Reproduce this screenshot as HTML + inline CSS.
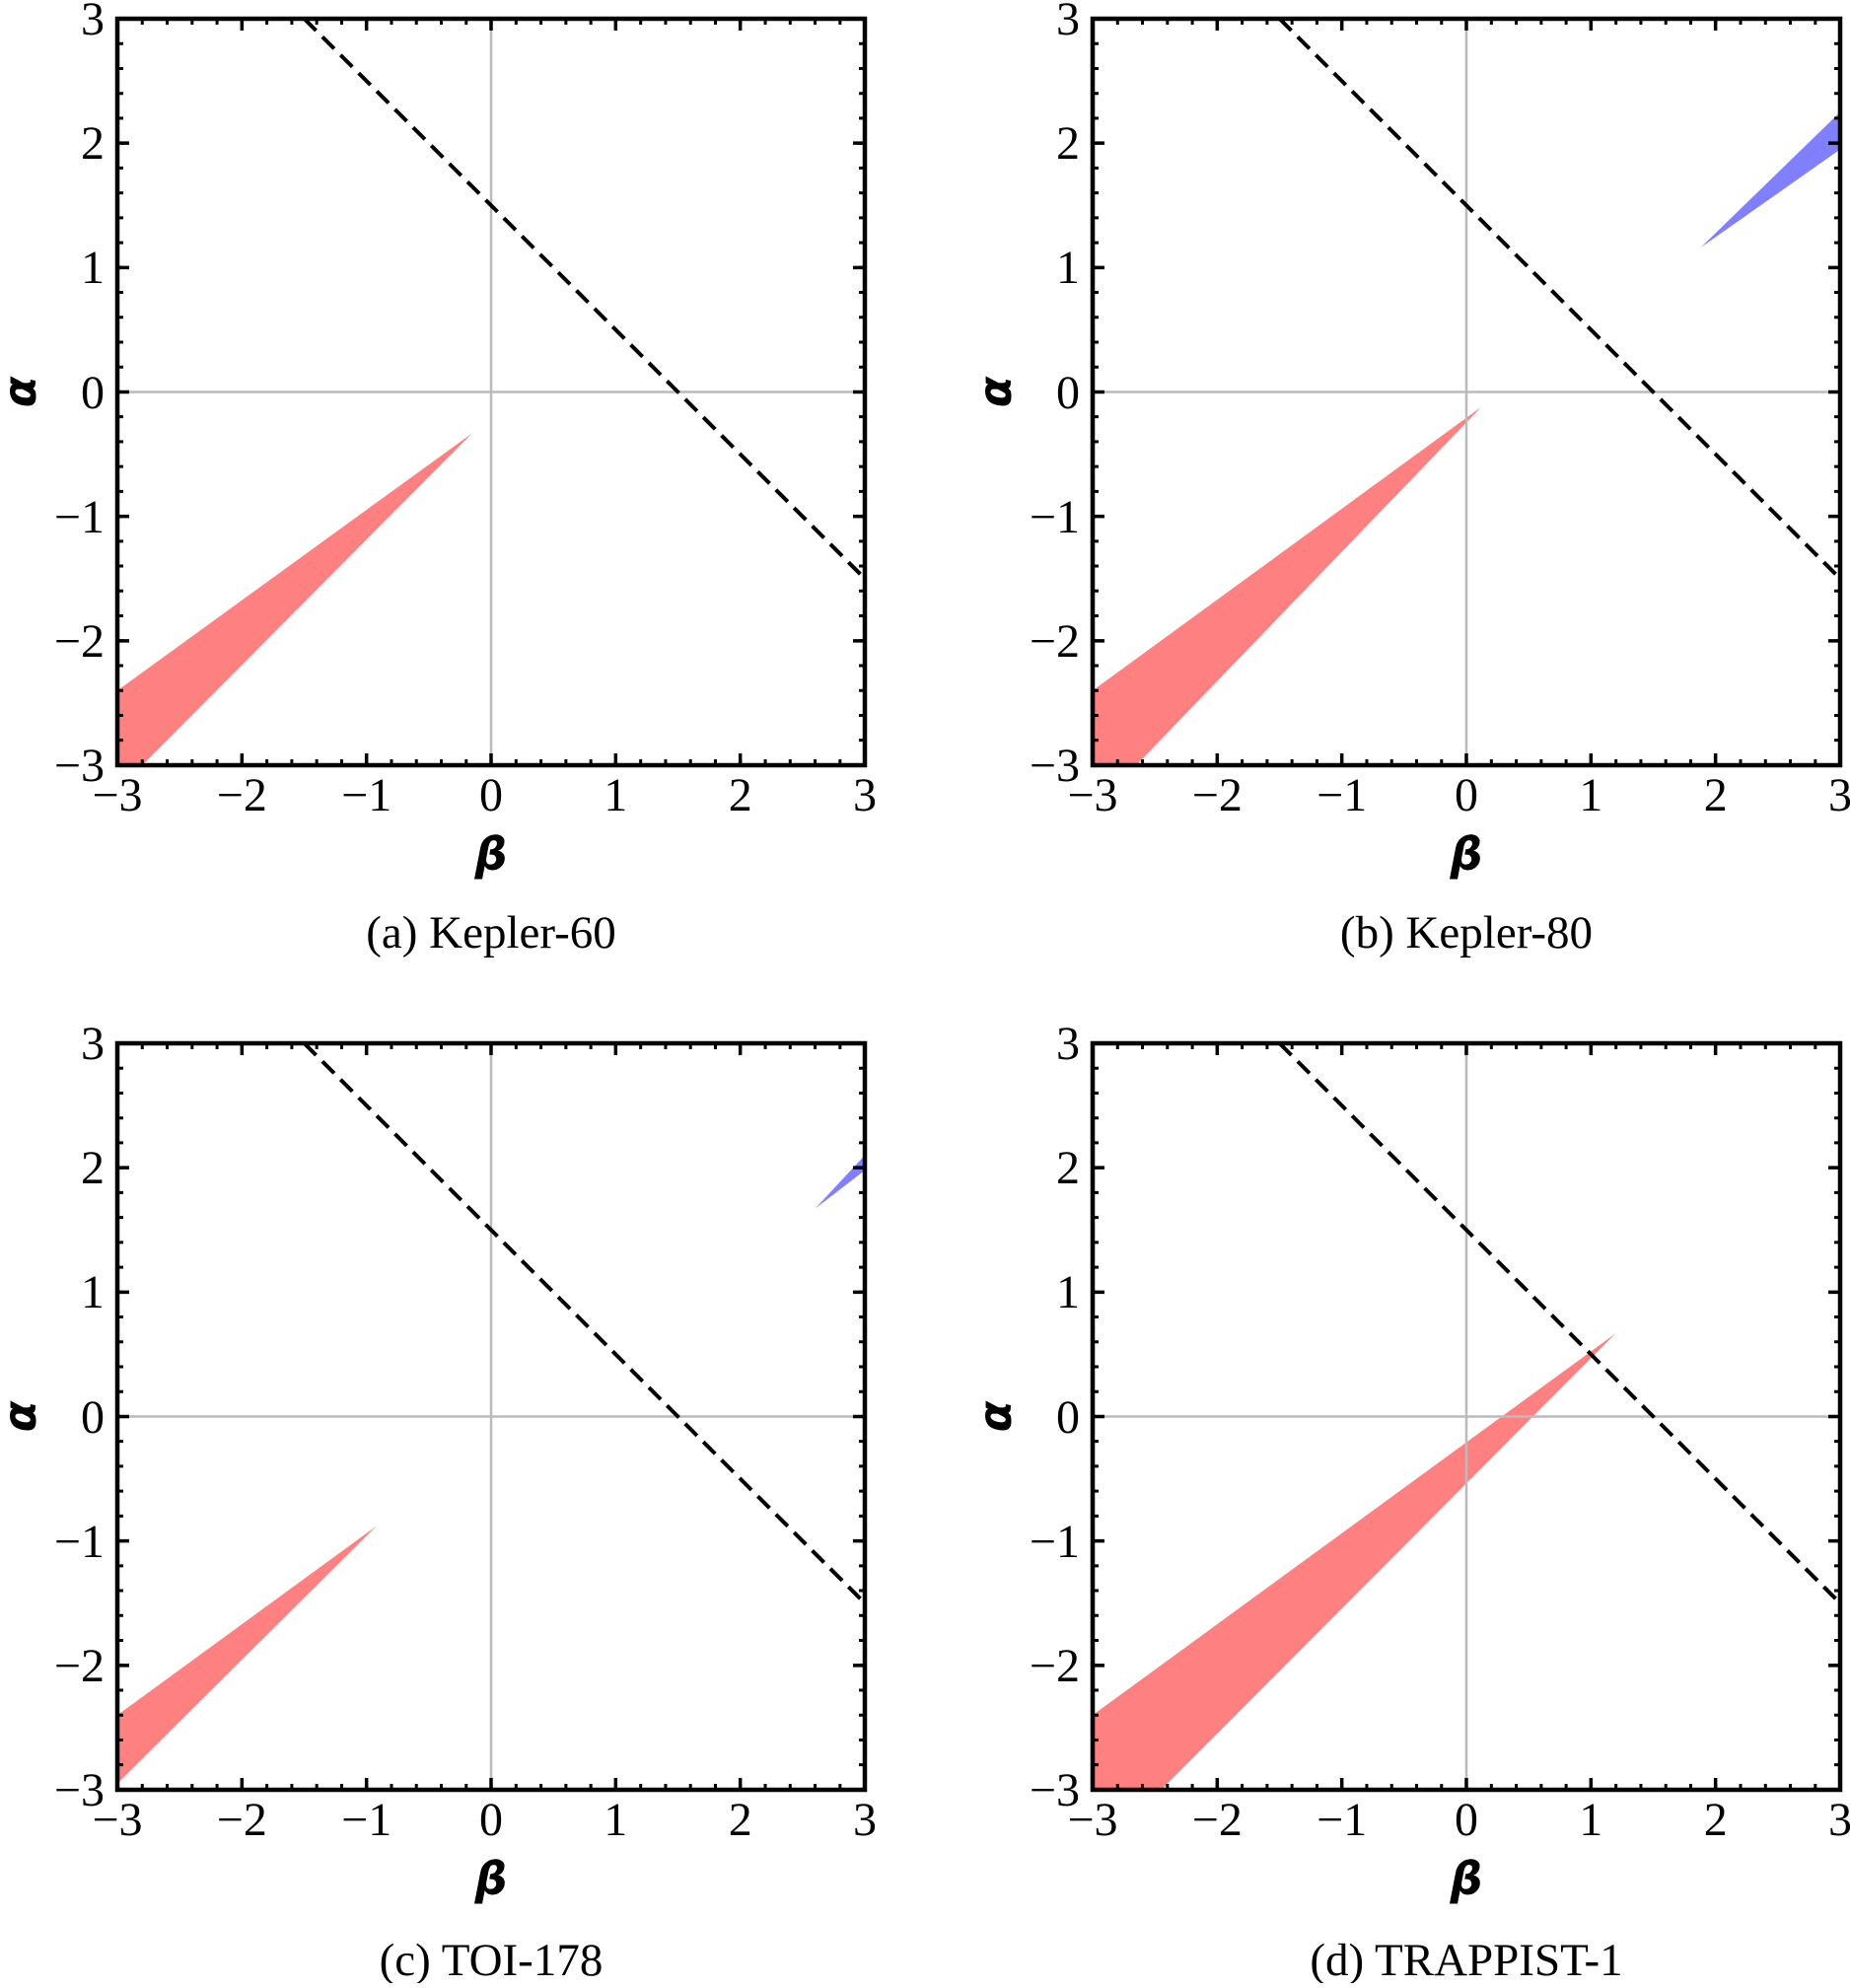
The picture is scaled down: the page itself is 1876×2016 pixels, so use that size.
<!DOCTYPE html>
<html><head><meta charset="utf-8"><style>
html,body{margin:0;padding:0;background:#fff}
svg text{font-family:"Liberation Serif",serif;fill:#000}
.tl{font-size:48px}
.cap{font-size:47px}
.gl{font-family:"DejaVu Sans","Liberation Sans",sans-serif;font-style:italic;font-weight:bold;font-size:46px}
</style></head><body>
<svg width="1876" height="2011" viewBox="0 0 1876 2011" xmlns="http://www.w3.org/2000/svg">
<defs>
<g id="frame">
  <line x1="0" y1="378.5" x2="758" y2="378.5" stroke="#bbb" stroke-width="2.5"/>
  <line x1="379" y1="0" x2="379" y2="757" stroke="#bbb" stroke-width="2.5"/>
  <g stroke="#000" stroke-width="6" stroke-dasharray="3 22.27" stroke-dashoffset="1.5">
    <line x1="0" y1="754" x2="758" y2="754"/>
    <line x1="0" y1="3" x2="758" y2="3"/>
  </g>
  <g stroke="#000" stroke-width="6" stroke-dasharray="3 22.23" stroke-dashoffset="1.5">
    <line x1="3" y1="0" x2="3" y2="757"/>
    <line x1="755" y1="0" x2="755" y2="757"/>
  </g>
  <g stroke="#000" stroke-width="12" stroke-dasharray="3.5 122.83" stroke-dashoffset="1.75">
    <line x1="0" y1="751" x2="758" y2="751"/>
    <line x1="0" y1="6" x2="758" y2="6"/>
  </g>
  <g stroke="#000" stroke-width="12" stroke-dasharray="3.5 122.67" stroke-dashoffset="1.75">
    <line x1="6" y1="0" x2="6" y2="757"/>
    <line x1="752" y1="0" x2="752" y2="757"/>
  </g>
  <rect x="0" y="0" width="758" height="757" fill="none" stroke="#000" stroke-width="4.5"/>
  <line x1="189.5" y1="0" x2="758" y2="567.8" stroke="#000" stroke-width="4" stroke-dasharray="17 9"/>
  <g text-anchor="middle">
    <text x="0" y="803" class="tl">−3</text>
    <text x="126.3" y="803" class="tl">−2</text>
    <text x="252.7" y="803" class="tl">−1</text>
    <text x="379" y="803" class="tl">0</text>
    <text x="505.3" y="803" class="tl">1</text>
    <text x="631.7" y="803" class="tl">2</text>
    <text x="758" y="803" class="tl">3</text>
  </g>
  <g text-anchor="end">
    <text x="-13" y="16" class="tl">3</text>
    <text x="-13" y="142" class="tl">2</text>
    <text x="-13" y="268" class="tl">1</text>
    <text x="-13" y="395" class="tl">0</text>
    <text x="-13" y="521" class="tl">−1</text>
    <text x="-13" y="647" class="tl">−2</text>
    <text x="-13" y="773" class="tl">−3</text>
  </g>
  <text x="379" y="863" text-anchor="middle" class="gl">β</text>
  <text transform="translate(-83,378.5) rotate(-90)" text-anchor="middle" class="gl">α</text>
</g>
</defs>

<g transform="translate(119,19)">
  <svg width="758" height="757" viewBox="-3 -3 6 6" preserveAspectRatio="none"><g transform="scale(1,-1)">
    <polygon points="-3,-2.4 -0.15,-0.33 -2.8,-3 -3,-3" fill="#ff8080"/>
  </g></svg>
  <use href="#frame"/>
  <text x="379" y="942" text-anchor="middle" class="cap">(a) Kepler-60</text>
</g>
<g transform="translate(1108,19)">
  <svg width="758" height="757" viewBox="-3 -3 6 6" preserveAspectRatio="none"><g transform="scale(1,-1)">
    <polygon points="-3,-2.4 0.12,-0.12 -2.65,-3 -3,-3" fill="#ff8080"/>
    <polygon points="1.88,1.16 3,2.25 3,1.95" fill="#8080ff"/>
  </g></svg>
  <use href="#frame"/>
  <text x="379" y="942" text-anchor="middle" class="cap">(b) Kepler-80</text>
</g>
<g transform="translate(119,1058)">
  <svg width="758" height="757" viewBox="-3 -3 6 6" preserveAspectRatio="none"><g transform="scale(1,-1)">
    <polygon points="-3,-2.4 -0.92,-0.88 -3,-2.95" fill="#ff8080"/>
    <polygon points="2.6,1.67 3,2.1 3,1.98" fill="#8080ff"/>
  </g></svg>
  <use href="#frame"/>
  <text x="379" y="945" text-anchor="middle" class="cap">(c) TOI-178</text>
</g>
<g transform="translate(1108,1058)">
  <svg width="758" height="757" viewBox="-3 -3 6 6" preserveAspectRatio="none"><g transform="scale(1,-1)">
    <polygon points="-3,-2.4 1.2,0.67 -2.45,-3 -3,-3" fill="#ff8080"/>
  </g></svg>
  <use href="#frame"/>
  <text x="379" y="945" text-anchor="middle" class="cap">(d) TRAPPIST-1</text>
</g>
</svg>
</body></html>
